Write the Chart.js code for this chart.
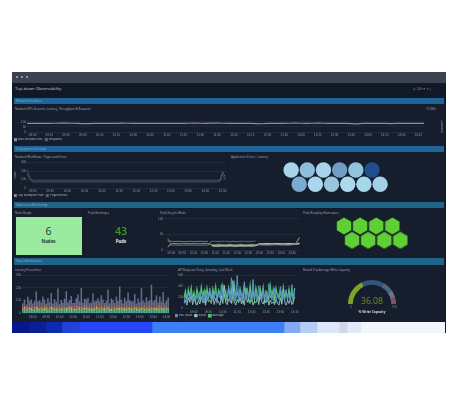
<!DOCTYPE html>
<html><head><meta charset="utf-8">
<script src="https://cdn.jsdelivr.net/npm/chart.js@4/dist/chart.umd.min.js"></script>
<style>
html,body{margin:0;padding:0;background:#fff;width:474px;height:409px;overflow:hidden}
#app{position:absolute;left:0;top:0;width:474px;height:409px;filter:blur(.55px);font-family:"Open Sans",sans-serif}
.b{position:absolute}.t{position:absolute;white-space:nowrap;line-height:1}
canvas{position:absolute;display:block}
</style></head><body><div id="app"></div>
<script>
// ---- text
const dashboardTitle='Top-down Observability';
const sectionNames=['Network Interfaces','Deployment Overview','Kubernetes Monitoring','Shop Infrastructure'];
// ---- panel 1
const netTicks=['09:00','09:15','09:30','09:45','10:00','10:15','10:30','10:45','11:00','11:15','11:30','11:45','12:00','12:15','12:30','12:45','13:00','13:15','13:30','13:45','14:00','14:15','14:30','14:45'];
const netSessions=[84,85,86,85,84,86,88,87,86,85,83,82,85,86,85,84,85,87,86,85,85,84,84,85,86,85,84,84,85,86,87,86,85,87,88,86,85,84,85,86,84,83,81,84,86,85,84,86,87,86,85,86,88,86,85,84,85,84,83,80,84,85,86,85,84,83,84,85,86,85,84,84];
const netRequests=[880,0,0,0,0,0,0,0,0,0,0,0,0,0,0,0,0,0,0,0,0,0,0,0,0,0,0,0,0,0,0,0,0,0,0,0,0,0,0,0,0,0,0,0,0,0,0,0,0,0,0,0,0,0,0,0,0,0,0,0,0,0,0,0,0,0,0,0,0,0,400,860];
// ---- panel 2
const flowTicks=['09:00','09:30','10:00','10:30','11:00','11:30','12:00','12:30','13:00','13:30','14:00','14:30'];
const flowPages=[210,130,85,84,86,85,84,85,86,84,85,86,85,84,85,85,86,84,85,86,84,85,85,86,85,84,85,86,84,85,85,84,86,85,84,85,86,85,84,85,86,84,85,85,86,84,85,86,85,84,85,85,84,86,85,84,85,86,85,84,85,86,84,85,85,86,84,90,190,120];
const flowErrors=[170,95,72,70,71,72,70,71,72,70,71,70,72,71,70,72,71,70,71,72,70,71,70,72,71,70,71,72,70,71,72,70,71,70,72,71,70,71,72,70,71,70,72,71,70,71,72,70,71,70,72,71,70,71,72,71,70,72,71,70,71,72,70,71,70,72,71,74,160,90];
// ---- honeycomb 1
const latencyCols=[0,1,2,3,4,5,0.5,1.5,2.5,3.5,4.5,5.5];
const latencyRows=[0,0,0,0,0,0,1,1,1,1,1,1];
const latencyCells=['#a8d4ea','#8fbedb','#a9d3ea','#6f9dc3','#93c3dd','#1f4f8a','#7aaacf','#a9d8ee','#97c6dd','#acd9ee','#a5d7ea','#a3d0e4'];
// ---- panel 3
const podTicks=['09:00','09:30','10:00','10:30','11:00','11:30','12:00','12:30','13:00','13:30','14:00','14:30'];
const podOrange=[null,29,28,27,28,27,27,28,27,27,28,27,28,null,null,null,null,null,null,null,null,null,null,null,null,null,null,null,null,null,null,null,null,null,null,null,null,null];
const podGreen=[null,38,16,15,16,15,15,16,15,15,16,15,16,28,28,27,28,28,27,28,27,28,28,27,28,29,null,null,null,null,null,null,null,null,null,null,null,null];
const podGrey=[null,10,20,21,20,20,21,20,21,20,20,21,20,17,17,18,17,17,18,17,17,18,17,17,18,17,17,16,17,16,17,17,16,17,16,17,20,40];
const podPale=[null,null,null,null,null,null,null,null,null,null,null,null,null,14,13,13,14,13,14,13,13,14,13,14,13,14,19,19,20,19,19,20,19,19,20,19,19,21];
// ---- honeycomb 2
const readyCols=[0,1,2,3,0.5,1.5,2.5,3.5];
const readyRows=[0,0,0,0,1,1,1,1];
// ---- latency stack (88 bars)
const latTicks=['09:00','09:30','10:00','10:30','11:00','11:30','12:00','12:30','13:00','13:30','14:00'];
const latTeal=[22,30,18,26,34,20,15,28,31,19,
 24,33,17,27,22,14,29,35,21,25,
 18,32,26,16,23,30,20,28,34,19,
 24,15,27,31,22,18,29,25,33,17,
 21,28,14,26,32,23,19,30,16,27,
 24,35,20,18,29,22,31,15,26,33,
 21,17,28,24,30,19,23,34,16,27,
 20,25,32,18,29,22,14,31,26,21,
 28,17,33,24,19,30,23,27];
const latYellow=[14,20,12,18,10,22,16,9,19,24,
 13,11,21,15,26,18,10,17,23,12,
 20,14,9,25,16,11,22,13,19,27,
 15,21,10,18,24,12,17,20,9,23,
 16,11,26,14,19,22,10,13,25,17,
 12,20,15,23,9,18,11,27,16,13,
 21,24,10,19,14,22,17,12,26,9,
 18,23,13,20,11,16,25,15,10,21,
 14,24,12,19,22,10,17,13];
const latRed=[16,10,22,12,18,8,24,14,11,20,
 9,17,13,26,10,21,15,12,8,23,
 14,19,11,16,25,9,13,18,10,15,
 22,12,27,9,16,20,11,14,24,10,
 19,13,17,8,21,12,26,15,11,18,
 23,10,14,9,20,16,12,25,8,17,
 13,11,22,15,10,24,9,18,13,20,
 16,8,12,21,14,26,11,10,19,15,
 9,17,23,12,14,20,11,16];
const latSlate=[28,50,18,74,36,60,22,44,110,30,
 56,24,82,40,20,68,34,96,26,52,
 38,130,30,48,22,64,118,28,42,76,
 20,36,54,90,32,148,26,58,44,72,
 24,34,100,46,28,62,38,84,56,20,
 40,122,30,66,50,26,78,32,160,44,
 24,70,36,106,52,28,46,88,22,60,
 34,140,42,26,74,30,54,168,38,48,
 92,28,64,36,112,24,50,70];
// ---- API delay (78 points)
const apiTicks=['09:00','09:45','10:30','11:15','12:00','12:45','13:30','14:15'];
const apiGreen=[180,310,150,340,210,370,160,290,130,350,
 240,160,380,200,320,140,360,190,300,170,
 350,220,390,150,330,260,170,400,210,310,
 140,370,230,340,160,420,200,300,180,360,
 250,140,390,220,330,170,410,190,320,150,
 370,240,160,350,210,380,130,310,260,170,
 400,200,340,150,360,230,180,330,140,380,
 210,300,170,350,190,320,150,370];
const apiBlue=[120,240,90,280,170,320,110,210,150,270,
 130,300,180,250,100,330,140,260,370,120,
 280,170,340,110,290,190,430,140,310,220,
 160,380,120,550,200,280,130,590,170,330,
 110,290,480,150,350,190,260,120,520,180,
 300,140,410,210,130,360,170,280,120,450,
 190,310,140,370,110,280,230,390,150,300,
 120,340,180,260,130,430,170,330];
const apiPale=[90,150,60,190,110,230,70,170,120,60,
 140,80,210,100,160,60,200,120,150,90,
 240,70,180,110,130,60,220,90,420,100,
 70,170,130,90,500,120,60,160,100,200,
 80,140,60,370,110,170,90,220,60,130,
 100,190,70,260,120,80,160,100,210,60,
 150,90,120,70,170,100,60,190,80,320,
 110,60,150,90,180,70,130,210];
// ---- gauge
const gaugeValue=36.08;
const gaugeParts=[36.08,30,15,11,7.92];
const gaugeColors=['#7aa32a','#34527c','#4a6486','#6d7286','#85545c'];
// ---- palette strip
const stripWidths=[17,17,16,17,73,132,16,17,22,8,14,84];
const stripColors=['#06188a','#0a2092','#0b2aad','#2243d8','#2645f5','#3f7ff5','#83a9f3','#b5ccf7','#dde6fb','#d0d8e8','#e1e9fb','#f3f5fc'];

const app=document.getElementById('app');
function box(x,y,w,h,c,extra){const d=document.createElement('div');d.className='b';
 d.style.cssText=`left:${x}px;top:${y}px;width:${w}px;height:${h}px;background:${c};${extra||''}`;app.appendChild(d);return d}
function text(s,x,y,size,color,extra){const d=document.createElement('div');d.className='t';d.textContent=s;
 d.style.cssText=`left:${x}px;top:${y}px;font-size:${size}px;color:${color};${extra||''}`;app.appendChild(d);return d}
function cv(x,y,w,h){const c=document.createElement('canvas');c.width=w;c.height=h;
 c.style.cssText=`left:${x}px;top:${y}px;width:${w}px;height:${h}px`;app.appendChild(c);return c}
const tk='#8d97a7',gr='rgba(255,255,255,.055)',fs=3;
function chart(c,config){config.options=Object.assign({responsive:false,animation:false,events:[],devicePixelRatio:1},config.options);
 config.options.layout=Object.assign({autoPadding:false},config.options.layout);
 config.options.plugins=Object.assign({tooltip:{enabled:false},legend:{display:false}},config.options.plugins);return new Chart(c,config)}
function yAx(w,extra){return Object.assign({grid:{color:gr,drawTicks:false},border:{display:false},
 ticks:{color:tk,font:{size:fs},padding:1},afterFit:s=>{s.width=w}},extra)}
function xAx(h,extra){return Object.assign({grid:{display:false,drawTicks:false},border:{display:false},
 ticks:{color:tk,font:{size:fs},padding:1.5,autoSkip:false,maxRotation:0},afterFit:s=>{s.height=h}},extra)}
function leg(){return {display:true,position:'bottom',align:'start',labels:{color:'#a9b2c0',font:{size:fs},boxWidth:2.5,boxHeight:2.5,padding:0}}}
function cats(n,every,start,ticks){const a=[];for(let i=0;i<n;i++){a.push((i-start)%every===0&&i>=start&&ticks[(i-start)/every]||'')}return a}
function line(label,data,color,w,extra){return Object.assign({label,data,borderColor:color,backgroundColor:color,borderWidth:w,pointRadius:0,tension:0,spanGaps:false},extra)}

// ---- chrome
const bg='#131a2a',pane='#161e2e';
box(12,72,433.5,261,bg);
box(12,72,433.5,11,'#3b4351');
[17,22,27].forEach(x=>box(x-1,76,2,2,'#aab0b9','border-radius:50%'));
box(12,83,433.5,15,'#111827');
text(dashboardTitle,15,87,4.2,'#c9ced7');
text('⊙ 24h  ⟳ ▾  ⋮',413,88,3,'#8e97a5');
[[14,98],[14,146],[14,202],[14,258.3]].forEach((p,i)=>{box(p[0],p[1],430,6.3,i>=2?'#1f6488':'#1e6697');
 text(sectionNames[i],16,p[1]+1.7,2.9,'#8fb9d4')});
[[14,105,430,40.5],[14,153,213,48.5],[228,153,216,48.5],[14,209,70,48.5],[85,209,72,48.5],[158,209,143,48.5],[302,209,142,48.5],
 [14,265,164,56.5],[179,265,122,56.5],[302,265,142,56.5]].forEach(r=>box(r[0],r[1],r[2],r[3],pane));
[['Network KPIs Sessions, Latency, Throughput & Requests',15,108],['Network Workflows - Pages and Errors',15,156],
 ['Application Errors - Latency',231,156],['Node Ready',15,212],['Pods Running ⏶',88,212],['Pod Lifecycle Mode',160,212],
 ['Pods Ready by Namespace',303,212],['Latency Percentiles',15,268.5],['API Requests Delay, Saturday, Last Week',178,268.5],
 ['Round-Trip Average Write Capacity',303,268.5]].forEach(t=>text(t[0],t[1],t[2],2.9,'#a5adba'));

// ---- panel 1
chart(cv(14,111,429,40),{type:'line',data:{labels:cats(netSessions.length,3,1,netTicks),datasets:[
 line('Max Sessions/Sec   ',netSessions,'#8a8db0',1.2,{yAxisID:'y'}),
 line('Requests',netRequests,'#566577',.9,{yAxisID:'r'})]},
 options:{layout:{padding:{top:3}},plugins:{legend:leg()},scales:{
  x:xAx(6),y:yAx(13,{min:0,max:100,ticks:{color:tk,font:{size:fs},padding:1,stepSize:50,autoSkip:false}}),
  r:yAx(19,{position:'right',min:0,max:1000,grid:{display:false},ticks:{color:tk,font:{size:fs},padding:9,stepSize:200,autoSkip:false}})}}});
text('10 GB/s',426,108,2.9,'#9aa3b0');

// ---- panel 2
chart(cv(14,159,213,48),{type:'line',data:{labels:cats(flowPages.length,6,2,flowTicks),datasets:[
 line('Top Exemplar Flow   ',flowPages,'#8d97a6',.8,{borderDash:[1,1]}),
 line('Pages/Errors',flowErrors,'#4f6c70',.6,{})]},
 options:{layout:{padding:{top:3.5}},plugins:{legend:leg()},scales:{x:xAx(6),
  y:yAx(13,{min:0,max:300,ticks:{color:tk,font:{size:fs},padding:1,stepSize:100},
   title:{display:true,text:'Flows',color:tk,font:{size:2.8},padding:0}})}}});

// ---- honeycomb 1
chart(cv(228,155,216,46),{type:'scatter',data:{datasets:[{data:latencyCols.map((c,i)=>({x:c,y:latencyRows[i]})),
 pointRadius:7.7,pointBackgroundColor:latencyCells,pointBorderWidth:0}]},
 options:{scales:{x:{display:false,min:-3.9,max:9.45},y:{display:false,reverse:true,min:-1.05,max:2.17}}}});

// ---- stats
box(15.5,217,66,37.5,'#9aeb9f');
text('6',15.5,225.5,10.5,'#1c3a30','width:66px;text-align:center');
text('Nodes',15.5,238.5,4.4,'#1c3a30','width:66px;text-align:center;font-weight:700');
text('43',85,225.5,10.5,'#3c9a1e','width:72px;text-align:center;font-weight:600');
text('Pods',85,238.5,4.4,'#e4e8ee','width:72px;text-align:center;font-weight:700');

// ---- panel 3
chart(cv(158,216,143,40),{type:'line',data:{labels:cats(podGrey.length,3,2,podTicks),datasets:[
 line('Grey',podGrey,'#7f8a86',1.1),line('Orange',podOrange,'#a8694a',1),
 line('Green',podGreen,'#3f6f62',1.1),line('Pale',podPale,'#c9cf98',1.4)]},
 options:{layout:{padding:{top:2}},scales:{x:xAx(6),y:yAx(6,{min:0,max:100,ticks:{color:tk,font:{size:fs},padding:1,stepSize:50}})}}});

// ---- honeycomb 2
const hex=document.createElement('canvas');hex.width=16;hex.height=18;
{const g=hex.getContext('2d');g.fillStyle='#5fcf33';g.beginPath();
 [[8,0.5],[15.2,4.8],[15.2,13.2],[8,17.5],[.8,13.2],[.8,4.8]].forEach((p,i)=>i?g.lineTo(p[0],p[1]):g.moveTo(p[0],p[1]));g.closePath();g.fill()}
chart(cv(302,209,142,48),{type:'scatter',data:{datasets:[{data:readyCols.map((c,i)=>({x:c,y:readyRows[i]})),
 pointRadius:8,pointStyle:hex}]},
 options:{scales:{x:{display:false,min:-2.61,max:6.21},y:{display:false,reverse:true,min:-1.19,max:2.17}}}});

// ---- latency stack
function stack(label,data,color){return {label,data,backgroundColor:color,barPercentage:.9,categoryPercentage:1,borderWidth:0}}
chart(cv(12,272,160,48),{type:'bar',data:{labels:cats(latTeal.length,8,6,latTicks),datasets:[
 stack('p50',latTeal,'#4fb8a6'),stack('p75',latYellow,'#b4b868'),stack('p90',latRed,'#b8705a'),stack('p99',latSlate,'rgba(135,142,178,.7)')]},
 options:{layout:{padding:{top:3,right:3}},scales:{x:xAx(6.5,{stacked:true}),
  y:yAx(10,{stacked:true,min:0,max:300,ticks:{color:tk,font:{size:fs},padding:1,stepSize:100}})}}});

// ---- API delay
chart(cv(175,272,125,55),{type:'line',data:{labels:cats(apiGreen.length,10,7,apiTicks),datasets:[
 line('Min Value   ',apiBlue,'#5b93c8',1),line('Value   ',apiPale,'#9cc7c4',.9),line('Average',apiGreen,'#4fc56f',1.3)]},
 options:{layout:{padding:{top:3,right:4}},plugins:{legend:leg()},scales:{x:xAx(5.5),
  y:yAx(9,{min:0,max:600,ticks:{color:tk,font:{size:fs},padding:1,stepSize:200}})}}});

// ---- gauge
chart(cv(348,280,48,24),{type:'doughnut',data:{labels:['Used','a','b','c','d'],datasets:[{data:gaugeParts,backgroundColor:gaugeColors,borderWidth:0}]},
 options:{rotation:-90,circumference:180,cutout:'80%'}});
text(String(gaugeValue),348,296.5,8.6,'#6f8f22','width:48px;text-align:center');
text('0',350,306,2.8,tk);text('100',392,306,2.8,tk);
text('% Write Capacity',348,311,3.2,'#d5dae2','width:48px;text-align:center;font-weight:700');

// ---- palette strip
chart(cv(12,322,433,11),{type:'bar',data:{labels:['palette'],datasets:stripWidths.map((w,i)=>({label:'s'+i,data:[w],backgroundColor:stripColors[i],barPercentage:1,categoryPercentage:1,borderWidth:0}))},
 options:{indexAxis:'y',scales:{x:{display:false,stacked:true,min:0,max:433},y:{display:false,stacked:true}}}});
</script></body></html>
